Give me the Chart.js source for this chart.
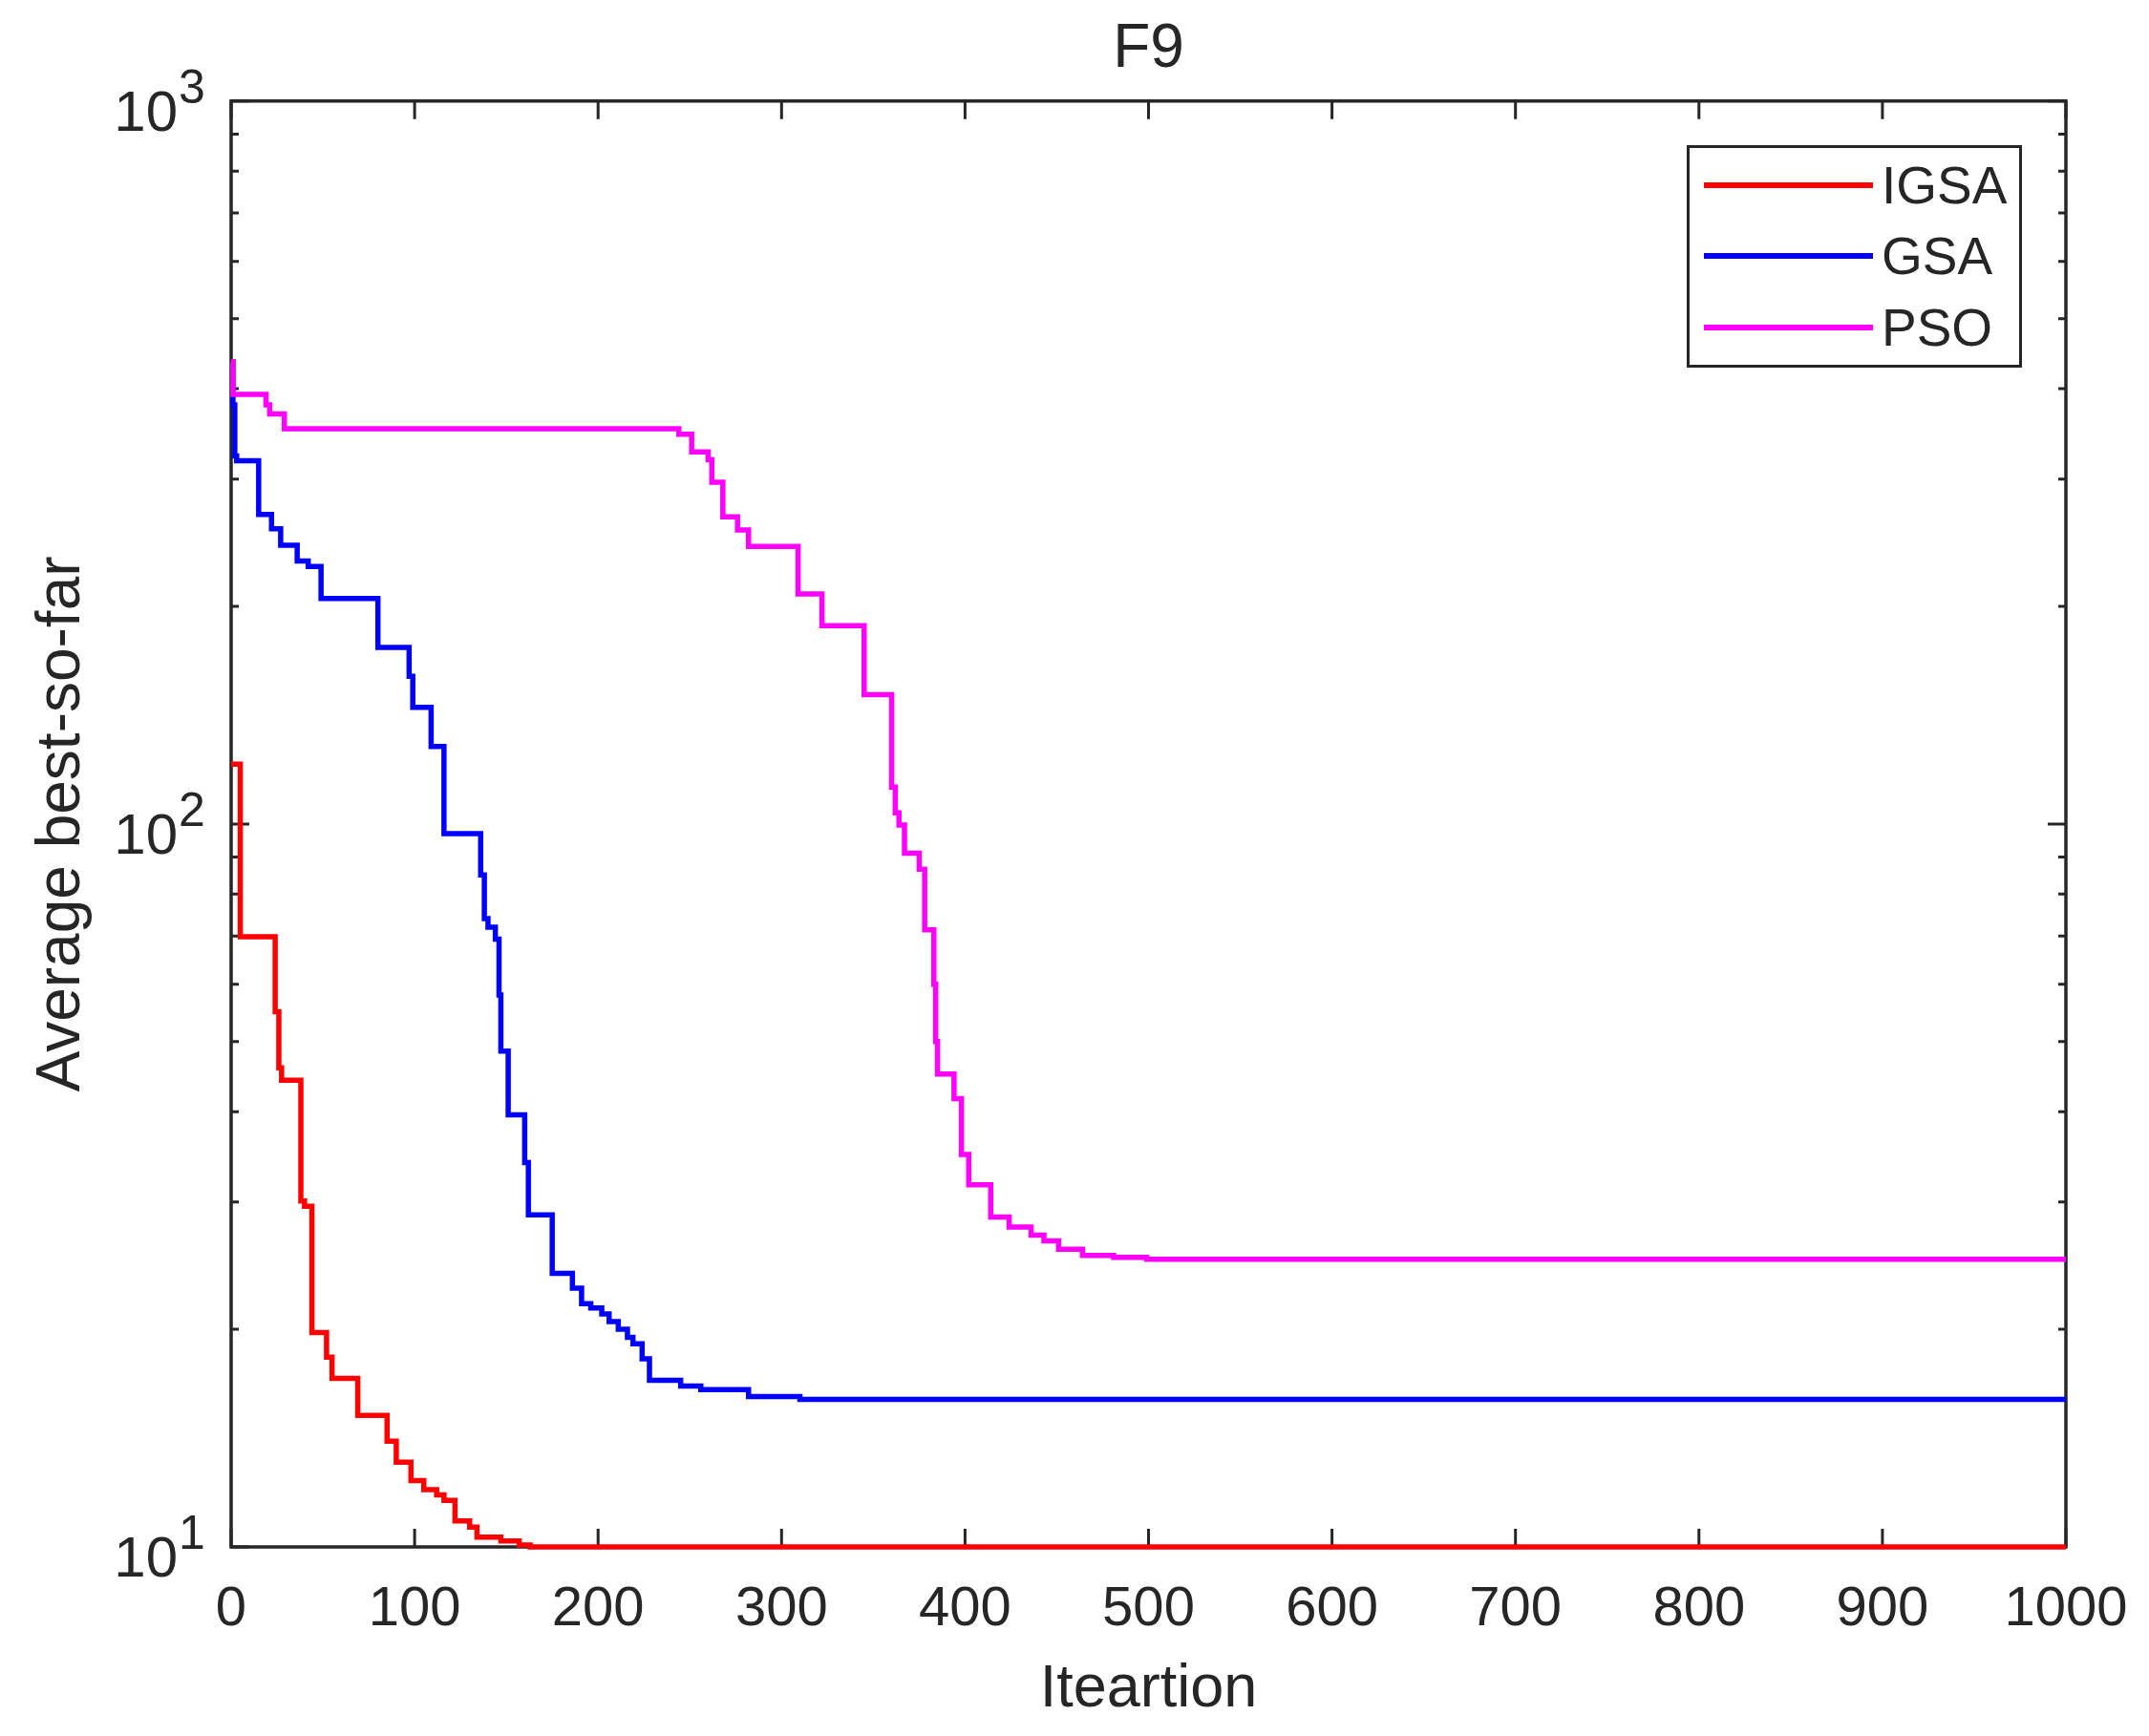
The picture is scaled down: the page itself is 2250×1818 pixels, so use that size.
<!DOCTYPE html>
<html>
<head>
<meta charset="utf-8">
<title>F9</title>
<script src="https://cdn.jsdelivr.net/npm/chart.js@4.4.1/dist/chart.umd.min.js"></script>
<style>
  body { margin: 0; background: #fff; }
  #wrap { position: relative; width: 2250px; height: 1818px; }
  #legend {
    position: absolute; left: 1766px; top: 152px; width: 351px; height: 233px; box-sizing: border-box;
    border: 3px solid #262626; background: #fff;
    font-family: "Liberation Sans", Arial, sans-serif; font-size: 55px; color: #262626;
  }
  .item { position: absolute; left: 15px; height: 60px; display: flex; align-items: center; }
  .item i { display: block; width: 177px; height: 5.5px; }
  .item span { margin-left: 9px; line-height: 60px; white-space: nowrap; }
</style>
</head>
<body>
<div id="wrap">
  <canvas id="chart" width="2250" height="1818"></canvas>
  <div id="legend"></div>
</div>
<script>
const seriesNames = ['IGSA', 'GSA', 'PSO'];
const seriesColors = ['#ff0000', '#0000ff', '#ff00ff'];

// iteration where the best-so-far value changes, and the new value
const igsaIter = [0, 5, 24, 26, 27.5, 38, 40, 44, 52, 55, 69, 85, 90, 98, 105, 112, 116, 122, 130, 134, 147, 157, 163, 1000];
const igsaBest = [121, 69.8, 55, 46, 44.2, 30.1, 29.6, 19.8, 18.3, 17.1, 15.2, 14.0, 13.1, 12.35, 12.0, 11.8, 11.6, 10.86, 10.65, 10.32, 10.19, 10.06, 10.0, 10.0];

const gsaIter = [0, 1, 2, 3, 15, 22, 27, 36, 42, 49, 80, 97, 99, 109, 116, 136, 138, 140, 144, 146, 147, 151, 160, 162, 175, 186, 191, 196, 202, 206, 211, 216, 219, 224, 228, 245, 256, 282, 310, 1000];
const gsaBest = [436, 380, 323, 318, 268, 256, 243, 231, 227, 205, 175.5, 160, 145, 128, 97, 85, 74, 72, 69.3, 58, 48.5, 39.6, 34, 28.8, 23.9, 22.8, 21.7, 21.4, 21.0, 20.5, 20.0, 19.5, 19.1, 18.2, 17.0, 16.7, 16.5, 16.15, 16.0, 16.0];

const psoIter = [0, 1, 19, 21, 29, 244, 251, 260, 262, 268, 276, 282, 309, 322, 345, 360, 362, 364, 367, 375, 378, 383, 384, 385, 394, 398, 402, 414, 424, 436, 443, 451, 464, 481, 499, 1000];
const psoBest = [436, 393, 380, 369, 352, 346, 327, 319, 297, 266, 255, 242, 208, 188, 151, 112.5, 103.6, 99.7, 91.1, 86.6, 71.4, 60, 50, 45.1, 41.7, 34.9, 31.7, 28.6, 27.7, 27.0, 26.5, 25.8, 25.3, 25.15, 25.0, 25.0];

const xTicks = [0, 100, 200, 300, 400, 500, 600, 700, 800, 900, 1000];
const xTickLabels = ['0', '100', '200', '300', '400', '500', '600', '700', '800', '900', '1000'];
const yMajor = [10, 100, 1000];
const yExponents = ['1', '2', '3'];
const yMinor = [20, 30, 40, 50, 60, 70, 80, 90, 200, 300, 400, 500, 600, 700, 800, 900];

const ink = '#262626';
const fontFamily = '"Liberation Sans", Arial, sans-serif';
Chart.defaults.font.family = fontFamily;
Chart.defaults.color = ink;

function points(iters, vals) {
    return iters.map((x, i) => ({ x: x, y: vals[i] }));
}

// MATLAB style box with inward ticks on all four sides
const boxTicks = {
    id: 'boxTicks',
    beforeDatasetsDraw(chart) {
        const { ctx, chartArea: a, scales: { x, y } } = chart;
        ctx.save();
        ctx.strokeStyle = ink;
        ctx.lineWidth = 3.5;
        ctx.strokeRect(a.left, a.top, a.right - a.left, a.bottom - a.top);
        ctx.lineWidth = 3;
        ctx.beginPath();
        xTicks.forEach(v => {
            const px = x.getPixelForValue(v);
            ctx.moveTo(px, a.bottom); ctx.lineTo(px, a.bottom - 19);
            ctx.moveTo(px, a.top); ctx.lineTo(px, a.top + 19);
        });
        yMajor.concat(yMinor).forEach(v => {
            const py = y.getPixelForValue(v);
            const len = yMajor.includes(v) ? 19 : 8;
            ctx.moveTo(a.left, py); ctx.lineTo(a.left + len, py);
            ctx.moveTo(a.right, py); ctx.lineTo(a.right - len, py);
        });
        ctx.stroke();
        ctx.restore();
    },
    afterDraw(chart) {
        // 10^n labels with a raised exponent
        const { ctx, scales: { y } } = chart;
        ctx.save();
        ctx.fillStyle = ink;
        yMajor.forEach((v, i) => {
            const py = y.getPixelForValue(v);
            ctx.font = '60px ' + fontFamily;
            ctx.textAlign = 'right';
            ctx.textBaseline = 'alphabetic';
            ctx.fillText('10', 186, py + 31);
            ctx.font = '50px ' + fontFamily;
            ctx.textAlign = 'left';
            ctx.fillText(yExponents[i], 187, py + 2);
        });
        ctx.restore();
    }
};

const chart = new Chart(document.getElementById('chart'), {
    type: 'line',
    data: {
        datasets: [
            { label: seriesNames[0], data: points(igsaIter, igsaBest), borderColor: seriesColors[0] },
            { label: seriesNames[1], data: points(gsaIter, gsaBest), borderColor: seriesColors[1] },
            { label: seriesNames[2], data: points(psoIter, psoBest), borderColor: seriesColors[2] }
        ].map(d => Object.assign(d, {
            stepped: true, borderWidth: 5.5, pointRadius: 0, fill: false, clip: false
        })).reverse()
    },
    options: {
        responsive: false,
        animation: false,
        devicePixelRatio: 1,
        layout: { padding: { left: 0, right: 87, top: 0, bottom: 0 } },
        plugins: {
            legend: { display: false },
            tooltip: { enabled: false },
            title: {
                display: true,
                fullSize: false,
                text: 'F9',
                color: ink,
                font: { size: 64, weight: 'normal' },
                padding: { top: 14, bottom: 15 }
            }
        },
        scales: {
            x: {
                type: 'linear',
                min: 0,
                max: 1000,
                afterBuildTicks: s => { s.ticks = xTicks.map(v => ({ value: v })); },
                afterFit: s => { s.height = 198; s.paddingLeft = 0; s.paddingRight = 0; },
                grid: { display: false, drawTicks: false },
                border: { display: false },
                ticks: {
                    color: ink, font: { size: 58 }, padding: 31, maxRotation: 0, autoSkip: false,
                    callback: (v, i) => xTickLabels[i]
                },
                title: {
                    display: true, text: 'Iteartion', color: ink,
                    font: { size: 63 }, padding: { top: 0, bottom: 11 }
                }
            },
            y: {
                type: 'logarithmic',
                min: 10,
                max: 1000,
                afterFit: s => { s.width = 242; },
                grid: { display: false, drawTicks: false },
                border: { display: false },
                ticks: { display: false },
                title: {
                    display: true, text: 'Average best-so-far', color: ink,
                    font: { size: 64 }, padding: { top: 27, bottom: 0 }
                }
            }
        }
    },
    plugins: [boxTicks]
});

// legend inside the axes, upper right, in series order
const legend = document.getElementById('legend');
const rowTops = [9, 83, 158];
seriesNames.forEach((name, i) => {
    const row = document.createElement('div');
    row.className = 'item';
    row.style.top = rowTops[i] + 'px';
    row.innerHTML = `<i style="background:${seriesColors[i]}"></i><span>${name}</span>`;
    legend.appendChild(row);
});
</script>
</body>
</html>
